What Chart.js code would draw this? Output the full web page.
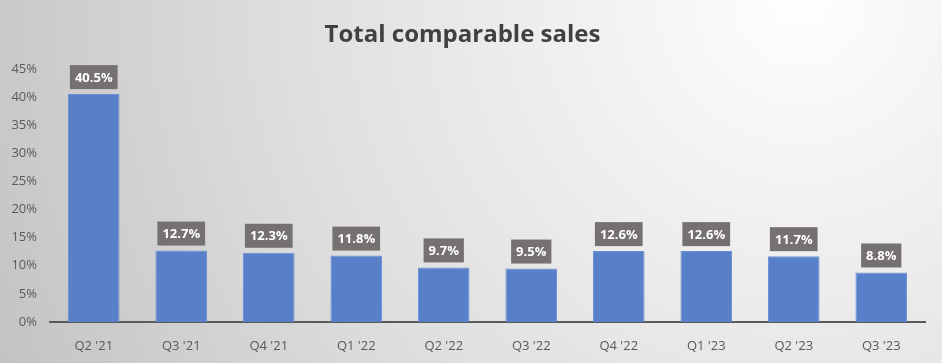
<!DOCTYPE html>
<html>
<head>
<meta charset="utf-8">
<script src="https://cdn.jsdelivr.net/npm/chart.js@4"></script>
<style>
  html, body { margin: 0; padding: 0; }
  #wrap { width: 942px; height: 363px; }
</style>
</head>
<body>
<div id="wrap"><canvas id="compSales"></canvas></div>
<script>
// data
const quarters = ["Q2 '21", "Q3 '21", "Q4 '21", "Q1 '22", "Q2 '22", "Q3 '22", "Q4 '22", "Q1 '23", "Q2 '23", "Q3 '23"];
const compSales = [40.5, 12.7, 12.3, 11.8, 9.7, 9.5, 12.6, 12.6, 11.7, 8.8];
const yTicks = [0, 5, 10, 15, 20, 25, 30, 35, 40, 45];

// grey/white backdrop like the spreadsheet chart area
const backdrop = {
    id: 'backdrop',
    beforeDraw(chart) {
        const { ctx, width, height } = chart;
        const g = ctx.createRadialGradient(800, 0, 20, 800, 0, 960);
        g.addColorStop(0, '#fdfdfd');
        g.addColorStop(0.5, '#e0e0e0');
        g.addColorStop(1, '#bdbdbd');
        ctx.save();
        ctx.fillStyle = g;
        ctx.fillRect(0, 0, width, height);
        ctx.restore();
    }
};

// dark boxes with value above each bar
const valueBoxes = {
    id: 'valueBoxes',
    afterDatasetsDraw(chart) {
        const { ctx } = chart;
        const meta = chart.getDatasetMeta(0);
        ctx.save();
        ctx.font = 'bold 13px "Open Sans", sans-serif';
        ctx.textAlign = 'center';
        ctx.textBaseline = 'middle';
        meta.data.forEach((bar, i) => {
            const txt = compSales[i].toFixed(1) + '%';
            const w = ctx.measureText(txt).width + 10;
            const h = 24;
            const bottom = bar.y - 5;
            ctx.fillStyle = '#767171';
            ctx.fillRect(bar.x - w / 2, bottom - h, w, h);
            ctx.fillStyle = '#ffffff';
            ctx.fillText(txt, bar.x, bottom - h / 2 + 1);
        });
        ctx.restore();
    }
};

new Chart(document.getElementById('compSales').getContext('2d'), {
    type: 'bar',
    data: {
        labels: quarters,
        datasets: [{
            label: 'Total comparable sales',
            data: compSales,
            backgroundColor: '#5880c8',
            borderColor: '#6a8fd4',
            borderWidth: 1,
            categoryPercentage: 1.0,
            barPercentage: 0.59
        }]
    },
    options: {
        responsive: true,
        maintainAspectRatio: false,
        animation: false,
        layout: { padding: { left: 0, right: 17, top: 0, bottom: 0 } },
        plugins: {
            legend: { display: false },
            tooltip: { enabled: false },
            title: {
                display: true,
                text: 'Total comparable sales',
                color: '#404040',
                font: { family: '"Open Sans", sans-serif', size: 24, weight: 'bold' },
                padding: { top: 21, bottom: 19 }
            }
        },
        scales: {
            x: {
                grid: { display: false },
                border: { display: true, color: '#595959', width: 2 },
                ticks: {
                    color: '#595959',
                    font: { family: '"Open Sans", sans-serif', size: 13 },
                    padding: 8,
                    maxRotation: 0
                },
                afterFit(scale) { scale.height = 41; }
            },
            y: {
                min: 0,
                max: 45,
                grid: { display: false },
                border: { display: false },
                afterBuildTicks(scale) { scale.ticks = yTicks.map(v => ({ value: v })); },
                ticks: {
                    color: '#595959',
                    font: { family: '"Open Sans", sans-serif', size: 13 },
                    padding: 5,
                    callback: v => v + '%'
                },
                afterFit(scale) { scale.width = 50; }
            }
        }
    },
    plugins: [backdrop, valueBoxes]
});
</script>
</body>
</html>
